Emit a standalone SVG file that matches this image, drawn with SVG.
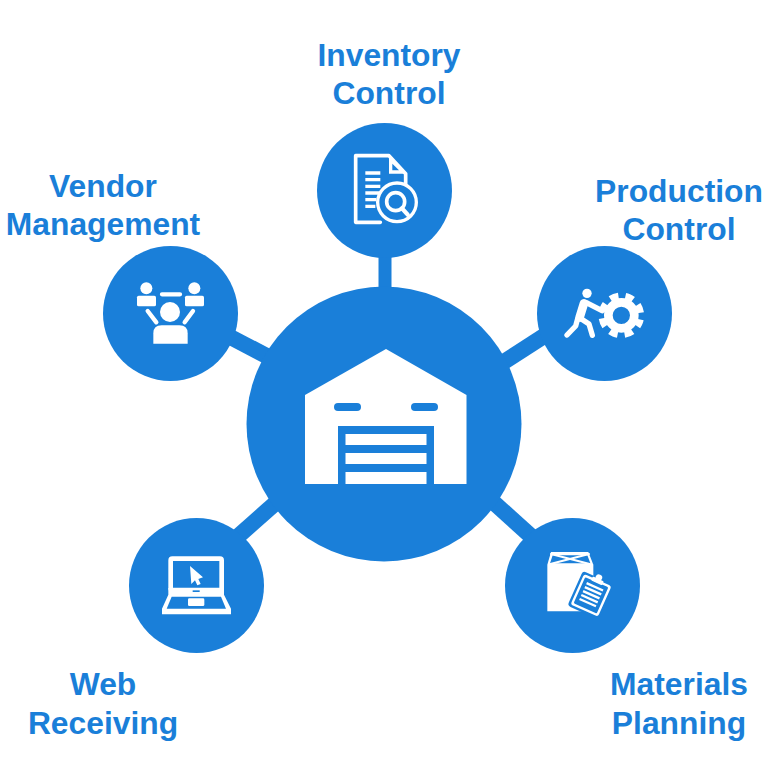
<svg xmlns="http://www.w3.org/2000/svg" width="768" height="768" viewBox="0 0 768 768">
<style>
.hub{fill:#1a7fd9}
.lab{font-family:"Liberation Sans",Arial,sans-serif;font-weight:700;font-size:31.8px;fill:#1a7fd9;text-anchor:middle}
.w{fill:#fff}
.b{fill:#1a7fd9}
.ws{fill:none;stroke:#fff;stroke-linecap:round;stroke-linejoin:round}
</style>
<rect width="768" height="768" fill="#fff"/>
<g id="connectors" stroke="#1a7fd9" stroke-width="16" fill="none">
<line x1="385" y1="240" x2="385" y2="300" stroke-width="13"/>
<line x1="216" y1="329.500" x2="282" y2="364"/>
<line x1="489" y1="371.500" x2="558" y2="327"/>
<line x1="226" y1="547" x2="288" y2="492"/>
<line x1="481" y1="491" x2="543" y2="547"/>
</g>
<g id="center">
<circle class="hub" cx="384" cy="424" r="137.500"/>
<path class="w" d="M386,349 L466.500,395 V484 H305 V395 Z"/>
<rect class="b" x="334" y="403" width="27" height="8" rx="4"/>
<rect class="b" x="411" y="403" width="27" height="8" rx="4"/>
<rect class="b" x="338" y="426" width="96" height="58"/>
<rect class="w" x="345.500" y="434" width="81" height="11"/>
<rect class="w" x="345.500" y="453" width="81" height="11"/>
<rect class="w" x="345.500" y="472" width="81" height="12"/>
</g>
<g id="inventory-control">
<circle class="hub" cx="384.500" cy="190.500" r="67.500"/>
<g transform="translate(317 123) scale(.33333)">
<path class="ws" stroke-width="11" d="M190,298 H116 V98 H216 L266,152 V205"/>
<path class="w" d="M216,98 L266,152 H216 Z"/>
<path class="b" d="M226,122 L246,142 H226 Z"/>
<path class="ws" stroke-width="10" style="stroke-linecap:butt" d="M145,150 H190 M145,170 H190 M145,190 H190 M145,210 H186 M145,230 H178 M145,250 H175"/>
<circle cx="240" cy="238" r="58" class="b" stroke="#fff" stroke-width="10"/>
<circle cx="236" cy="236" r="27" fill="none" stroke="#fff" stroke-width="11"/>
<path class="ws" stroke-width="13" d="M255,256 L272,275"/>
</g>
<text class="lab" x="389" y="65.500">Inventory</text>
<text class="lab" x="389" y="104">Control</text>
</g>
<g id="vendor-management">
<circle class="hub" cx="170.500" cy="313.500" r="67.500"/>
<g transform="translate(103 246) scale(.33333)">
<circle class="w" cx="130" cy="127" r="18"/>
<circle class="w" cx="274" cy="127" r="18"/>
<rect class="w" x="102" y="149" width="57" height="32" rx="5"/>
<rect class="w" x="246" y="149" width="57" height="32" rx="5"/>
<path class="ws" stroke-width="13" d="M177,145 H231 M134,195 L160,229 M270,195 L245,229"/>
<circle class="w" cx="201" cy="198" r="30"/>
<path class="w" d="M151,293 V262 Q151,238 176,238 H229 Q254,238 254,262 V293 Z"/>
</g>
<text class="lab" x="103" y="196.500">Vendor</text>
<text class="lab" x="103" y="235">Management</text>
</g>
<g id="production-control">
<circle class="hub" cx="604.500" cy="313.500" r="67.500"/>
<g transform="translate(537 246) scale(.33333)">
<circle class="w" cx="150" cy="142" r="14"/>
<path class="ws" stroke-width="26" d="M141,172 L128,214"/>
<path class="ws" stroke-width="16" d="M148,170 L195,194 M122,218 L116,240 L90,267 M132,218 L156,234 L166,268"/>
<circle cx="253" cy="208" r="39" fill="none" stroke="#fff" stroke-width="26"/>
<circle cx="253" cy="208" r="58" fill="none" stroke="#fff" stroke-width="21" stroke-dasharray="25 20.55" stroke-dashoffset="12.500" transform="rotate(22.5 253 208)"/>
</g>
<text class="lab" x="679" y="201.500">Production</text>
<text class="lab" x="679" y="240">Control</text>
</g>
<g id="web-receiving">
<circle class="hub" cx="196.500" cy="585.500" r="67.500"/>
<g transform="translate(129 518) scale(.33333)">
<rect x="125" y="122" width="153" height="94" rx="5" fill="none" stroke="#fff" stroke-width="14"/>
<path class="w" d="M118,210 H285 V230 L306,272 V289 H99 V272 L118,230 Z"/>
<rect class="b" x="191" y="217" width="21" height="5"/>
<path class="b" d="M128,236 H276 L291,272 H113 Z"/>
<rect class="w" x="177" y="241" width="49" height="23" rx="4"/>
<path class="w" d="M183,144 L222,178 L208,183 L215,198 L205,202 L198,187 L187,198 Z"/>
</g>
<text class="lab" x="103" y="695">Web</text>
<text class="lab" x="103" y="734">Receiving</text>
</g>
<g id="materials-planning">
<circle class="hub" cx="572.500" cy="585.500" r="67.500"/>
<g transform="translate(505 518) scale(.33333)">
<path class="w" d="M138,102 H250 L265,140 V280 H127 V140 Z"/>
<path class="b" d="M143,112 H247 L256,136 H135 Z"/>
<path class="ws" stroke-width="6" d="M138,108 L254,138 M252,108 L136,138"/>
<g transform="translate(258 232) rotate(24)">
<rect x="-52" y="-57" width="104" height="114" rx="10" class="b"/>
<rect x="-45" y="-50" width="90" height="100" rx="8" class="w"/>
<rect x="-38" y="-43" width="76" height="86" rx="4" class="b"/>
<path class="ws" stroke-width="7" style="stroke-linecap:butt" d="M-27,-28 H27 M-27,-15 H27 M-27,-2 H27 M-27,11 H27 M-27,24 H27"/>
<circle class="w" cx="0" cy="-58" r="10"/>
<rect class="w" x="-18" y="-54" width="36" height="13" rx="3"/>
</g>
</g>
<text class="lab" x="679" y="695">Materials</text>
<text class="lab" x="679" y="734">Planning</text>
</g>
</svg>
